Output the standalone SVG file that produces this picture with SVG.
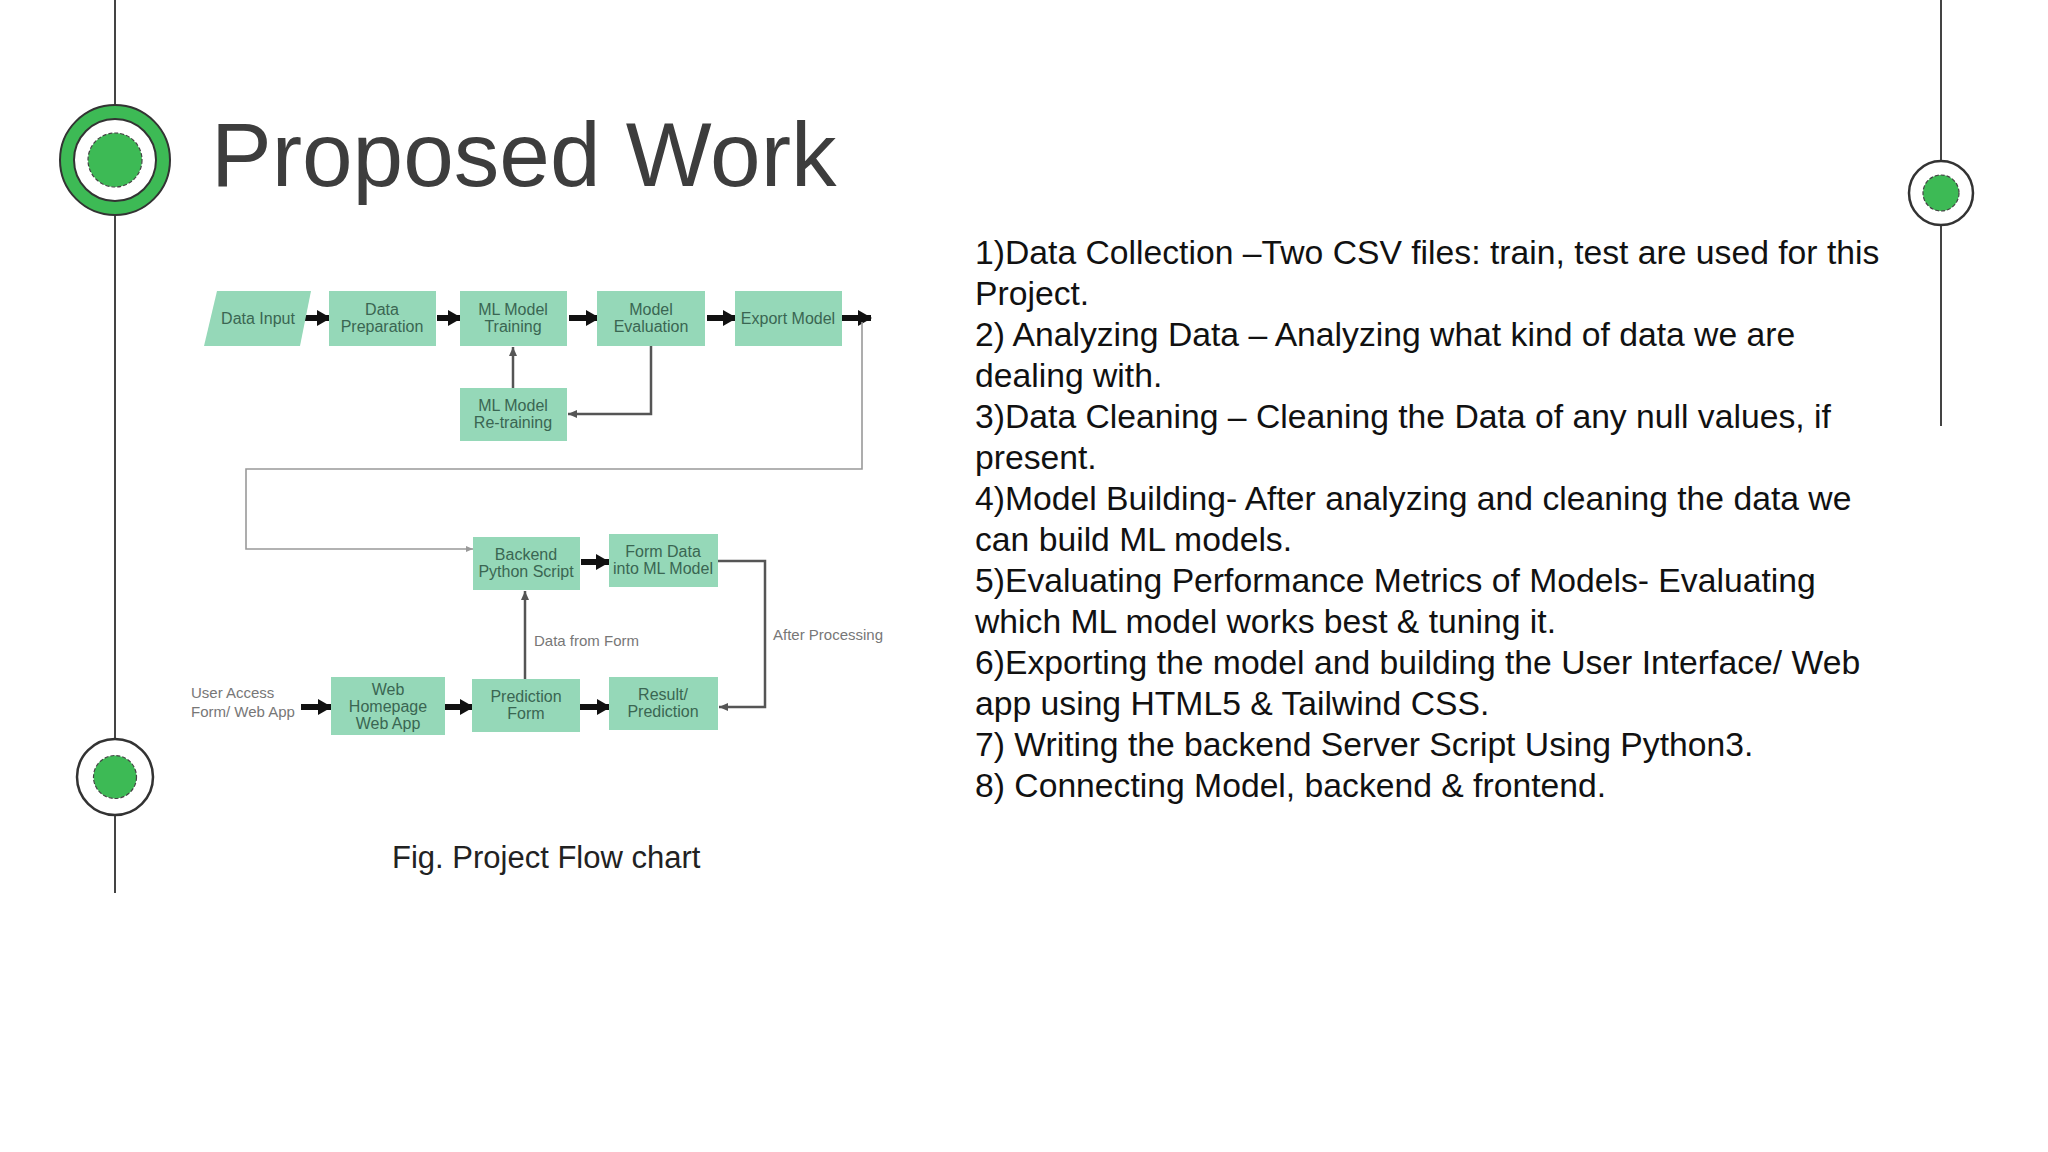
<svg xmlns="http://www.w3.org/2000/svg" width="2048" height="1152" viewBox="0 0 2048 1152">
<defs>
<style>
.node{fill:#95d8b8;}
.nt{font-family:"Liberation Sans",Arial,sans-serif;font-size:16px;fill:#3a6652;text-anchor:middle;}
.lbl{font-family:"Liberation Sans",Arial,sans-serif;font-size:15px;fill:#777;}
.body{font-family:"Liberation Sans",Arial,sans-serif;font-size:33.7px;fill:#111;}
.thick{stroke:#111;stroke-width:6;fill:none;}
.thin{stroke:#555;stroke-width:2.5;fill:none;}
.loop{stroke:#999;stroke-width:1.6;fill:none;}
.vline{stroke:#444;stroke-width:2;}
</style>
<marker id="big" markerUnits="userSpaceOnUse" markerWidth="14" markerHeight="16" refX="13" refY="8" orient="auto">
<path d="M0,0 L14,8 L0,16 Z" fill="#111"/>
</marker>
<marker id="small" markerUnits="userSpaceOnUse" markerWidth="9" markerHeight="8" refX="9" refY="4" orient="auto">
<path d="M0,0 L9,4 L0,8 Z" fill="#555"/>
</marker>
<marker id="tiny" markerUnits="userSpaceOnUse" markerWidth="7" markerHeight="6" refX="7" refY="3" orient="auto">
<path d="M0,0 L7,3 L0,6 Z" fill="#999"/>
</marker>
</defs>
<rect width="2048" height="1152" fill="#fff"/>

<g id="decor">
<line class="vline" x1="115" y1="0" x2="115" y2="105"/>
<line class="vline" x1="115" y1="215" x2="115" y2="739"/>
<line class="vline" x1="115" y1="815" x2="115" y2="893"/>
<circle cx="115" cy="160" r="48" fill="none" stroke="#3dba55" stroke-width="14"/>
<circle cx="115" cy="160" r="55" fill="none" stroke="#333" stroke-width="2"/>
<circle cx="115" cy="160" r="41" fill="none" stroke="#333" stroke-width="2"/>
<circle cx="115" cy="160" r="27" fill="#3dba55" stroke="#444" stroke-width="1.2" stroke-dasharray="4 2"/>
<circle cx="115" cy="777" r="38" fill="#fff" stroke="#333" stroke-width="2.5"/>
<circle cx="115" cy="777" r="21.5" fill="#3dba55" stroke="#444" stroke-width="1.2" stroke-dasharray="4 2"/>
<line class="vline" x1="1941" y1="0" x2="1941" y2="161"/>
<line class="vline" x1="1941" y1="225" x2="1941" y2="426"/>
<circle cx="1941" cy="193" r="32" fill="#fff" stroke="#333" stroke-width="2.5"/>
<circle cx="1941" cy="193" r="18" fill="#3dba55" stroke="#444" stroke-width="1.2" stroke-dasharray="4 2"/>
</g>

<text id="title" x="211" y="186" font-family="'Liberation Sans',Arial,sans-serif" font-size="91" fill="#3d3d3d">Proposed Work</text>

<g id="connectors">
<line class="thick" x1="304" y1="318" x2="330" y2="318" marker-end="url(#big)"/>
<line class="thick" x1="437" y1="318" x2="461" y2="318" marker-end="url(#big)"/>
<line class="thick" x1="569" y1="318" x2="599" y2="318" marker-end="url(#big)"/>
<line class="thick" x1="707" y1="318" x2="736" y2="318" marker-end="url(#big)"/>
<line class="thick" x1="838" y1="318" x2="871" y2="318" marker-end="url(#big)"/>
<line class="thin" x1="513" y1="388" x2="513" y2="347" marker-end="url(#small)"/>
<polyline class="thin" points="651,346 651,414 568,414" marker-end="url(#small)"/>
<polyline class="loop" points="862,322 862,469 246,469 246,549 473,549" marker-end="url(#tiny)"/>
<line class="thick" x1="581" y1="562" x2="609" y2="562" marker-end="url(#big)"/>
<polyline class="thin" points="718,561 765,561 765,707 719,707" marker-end="url(#small)"/>
<line class="thin" x1="525" y1="679" x2="525" y2="591" marker-end="url(#small)"/>
<line class="thick" x1="301" y1="707" x2="331" y2="707" marker-end="url(#big)"/>
<line class="thick" x1="445" y1="707" x2="473" y2="707" marker-end="url(#big)"/>
<line class="thick" x1="580" y1="707" x2="610" y2="707" marker-end="url(#big)"/>
</g>

<g id="n-data-input">
<polygon class="node" points="217,291 311,291 300,346 204,346"/>
<text class="nt" x="258" y="324">Data Input</text>
</g>
<g id="n-data-prep">
<rect class="node" x="329" y="291" width="107" height="55"/>
<text class="nt" x="382" y="315">Data</text>
<text class="nt" x="382" y="332">Preparation</text>
</g>
<g id="n-training">
<rect class="node" x="460" y="291" width="107" height="55"/>
<text class="nt" x="513" y="315">ML Model</text>
<text class="nt" x="513" y="332">Training</text>
</g>
<g id="n-eval">
<rect class="node" x="597" y="291" width="108" height="55"/>
<text class="nt" x="651" y="315">Model</text>
<text class="nt" x="651" y="332">Evaluation</text>
</g>
<g id="n-export">
<rect class="node" x="735" y="291" width="107" height="55"/>
<text class="nt" x="788" y="324">Export Model</text>
</g>
<g id="n-retrain">
<rect class="node" x="460" y="388" width="107" height="53"/>
<text class="nt" x="513" y="411">ML Model</text>
<text class="nt" x="513" y="428">Re-training</text>
</g>
<g id="n-backend">
<rect class="node" x="473" y="537" width="107" height="53"/>
<text class="nt" x="526" y="560">Backend</text>
<text class="nt" x="526" y="577">Python Script</text>
</g>
<g id="n-formdata">
<rect class="node" x="609" y="534" width="109" height="53"/>
<text class="nt" x="663" y="557">Form Data</text>
<text class="nt" x="663" y="574">into ML Model</text>
</g>
<g id="n-web">
<rect class="node" x="331" y="677" width="114" height="58"/>
<text class="nt" x="388" y="695">Web</text>
<text class="nt" x="388" y="712">Homepage</text>
<text class="nt" x="388" y="729">Web App</text>
</g>
<g id="n-predform">
<rect class="node" x="472" y="679" width="108" height="53"/>
<text class="nt" x="526" y="702">Prediction</text>
<text class="nt" x="526" y="719">Form</text>
</g>
<g id="n-result">
<rect class="node" x="609" y="677" width="109" height="53"/>
<text class="nt" x="663" y="700">Result/</text>
<text class="nt" x="663" y="717">Prediction</text>
</g>

<g id="labels">
<text class="lbl" x="191" y="698">User Access</text>
<text class="lbl" x="191" y="717">Form/ Web App</text>
<text class="lbl" x="534" y="646">Data from Form</text>
<text class="lbl" x="773" y="640">After Processing</text>
<text x="392" y="868" font-family="'Liberation Sans',Arial,sans-serif" font-size="31" fill="#222">Fig. Project Flow chart</text>
</g>

<g id="steps">
<text class="body" x="975" y="264">1)Data Collection –Two CSV files: train, test are used for this</text>
<text class="body" x="975" y="305">Project.</text>
<text class="body" x="975" y="346">2) Analyzing Data – Analyzing what kind of data we are</text>
<text class="body" x="975" y="387">dealing with.</text>
<text class="body" x="975" y="428">3)Data Cleaning – Cleaning the Data of any null values, if</text>
<text class="body" x="975" y="469">present.</text>
<text class="body" x="975" y="510">4)Model Building- After analyzing and cleaning the data we</text>
<text class="body" x="975" y="551">can build ML models.</text>
<text class="body" x="975" y="592">5)Evaluating Performance Metrics of Models- Evaluating</text>
<text class="body" x="975" y="633">which ML model works best &amp; tuning it.</text>
<text class="body" x="975" y="674">6)Exporting the model and building the User Interface/ Web</text>
<text class="body" x="975" y="715">app using HTML5 &amp; Tailwind CSS.</text>
<text class="body" x="975" y="756">7) Writing the backend Server Script Using Python3.</text>
<text class="body" x="975" y="797">8) Connecting Model, backend &amp; frontend.</text>
</g>
</svg>
